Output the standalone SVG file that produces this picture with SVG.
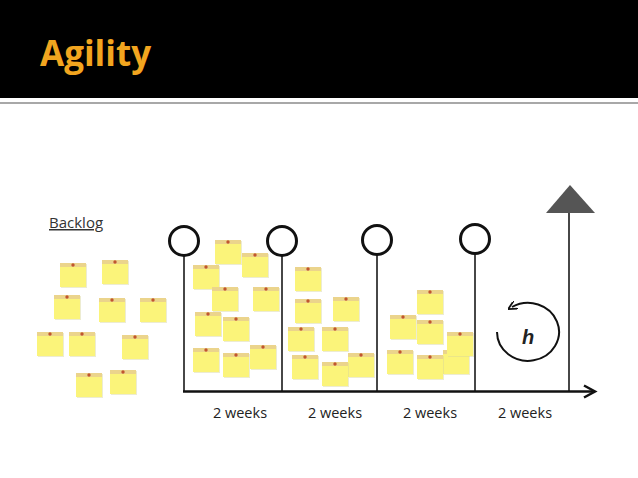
<svg xmlns="http://www.w3.org/2000/svg" xmlns:xlink="http://www.w3.org/1999/xlink" width="638" height="478" viewBox="0 0 638 478">
<style>
.title{font-family:"Open Sans","Liberation Sans",sans-serif;font-weight:bold;font-size:35px;fill:#F2A51F}
.lbl{font-family:"Open Sans","Liberation Sans",sans-serif;font-size:14.5px;fill:#222}
.ms{fill:#fff;stroke:#111;stroke-width:3}
.vl{stroke:#333;stroke-width:1.8;fill:none}
.ax{stroke:#111;stroke-width:2.5;fill:none}
</style>
<defs>
<symbol id="note" viewBox="0 0 26 24" width="26" height="24" overflow="visible">
<rect x="1" y="1" width="26" height="24" fill="#d8d49a" opacity="0.45"/>
<rect x="0" y="0" width="26" height="24" fill="#FBF47A"/>
<rect x="0" y="0" width="26" height="4" fill="#EBD48C"/>
<circle cx="13" cy="2" r="1.7" fill="#C0562E"/>
</symbol>
<marker id="loopHead" viewBox="0 0 10 10" refX="5" refY="5" markerWidth="9" markerHeight="9" orient="auto" markerUnits="userSpaceOnUse">
<path d="M0,0 L10,5 L0,10" fill="none" stroke="#111" stroke-width="2"/>
</marker>
</defs>
<rect width="638" height="478" fill="#fff"/>
<g id="header">
<rect x="0" y="0" width="638" height="98" fill="#000"/>
<rect x="0" y="102" width="638" height="2" fill="#A8A8A8"/>
<text class="title" x="40" y="66">Agility</text>
</g>
<g id="backlog">
<text class="lbl" x="49" y="228" style="font-size:15px;fill:#333" text-decoration="underline">Backlog</text>
<use href="#note" x="60" y="263"/>
<use href="#note" x="102" y="260"/>
<use href="#note" x="54" y="295"/>
<use href="#note" x="99" y="298"/>
<use href="#note" x="140" y="298"/>
<use href="#note" x="37" y="332"/>
<use href="#note" x="69" y="332"/>
<use href="#note" x="122" y="335"/>
<use href="#note" x="76" y="373"/>
<use href="#note" x="110" y="370"/>
</g>
<g id="connectors">
<line class="vl" x1="184" y1="256" x2="184" y2="391"/>
<line class="vl" x1="282" y1="256" x2="282" y2="391"/>
<line class="vl" x1="377" y1="255" x2="377" y2="391"/>
<line class="vl" x1="475" y1="254" x2="475" y2="391"/>
<line class="vl" x1="569" y1="212" x2="569" y2="391"/>
<path class="ax" d="M183,391.5 H594"/>
<path class="ax" d="M584,385.5 L595,391.5 L584,397.5"/>
</g>
<g id="milestone-1"><circle class="ms" cx="184" cy="241" r="14.5"/></g>
<g id="milestone-2"><circle class="ms" cx="282" cy="241" r="14.5"/></g>
<g id="milestone-3"><circle class="ms" cx="377" cy="240" r="14.5"/></g>
<g id="milestone-4"><circle class="ms" cx="475" cy="239" r="14.5"/></g>
<g id="release"><polygon points="570,185 546,213 595,213" fill="#555"/></g>
<g id="sprint-1">
<use href="#note" x="215" y="240"/>
<use href="#note" x="242" y="253"/>
<use href="#note" x="193" y="265"/>
<use href="#note" x="212" y="287"/>
<use href="#note" x="253" y="287"/>
<use href="#note" x="195" y="312"/>
<use href="#note" x="223" y="317"/>
<use href="#note" x="193" y="348"/>
<use href="#note" x="250" y="345"/>
<use href="#note" x="223" y="353"/>
<text class="lbl" x="240" y="418" text-anchor="middle">2 weeks</text>
</g>
<g id="sprint-2">
<use href="#note" x="295" y="267"/>
<use href="#note" x="295" y="299"/>
<use href="#note" x="333" y="297"/>
<use href="#note" x="288" y="327"/>
<use href="#note" x="322" y="327"/>
<use href="#note" x="292" y="355"/>
<use href="#note" x="348" y="353"/>
<use href="#note" x="322" y="362"/>
<text class="lbl" x="335" y="418" text-anchor="middle">2 weeks</text>
</g>
<g id="sprint-3">
<use href="#note" x="417" y="290"/>
<use href="#note" x="390" y="315"/>
<use href="#note" x="417" y="320"/>
<use href="#note" x="443" y="350"/>
<use href="#note" x="447" y="332"/>
<use href="#note" x="387" y="350"/>
<use href="#note" x="417" y="355"/>
<text class="lbl" x="430" y="418" text-anchor="middle">2 weeks</text>
</g>
<g id="sprint-4">
<path d="M497,332 A31,29 0 1,0 512,307" fill="none" stroke="#111" stroke-width="2" marker-end="url(#loopHead)"/>
<text x="528" y="344" text-anchor="middle" font-family="'Liberation Sans',sans-serif" font-weight="bold" font-style="italic" font-size="20" fill="#222">h</text>
<text class="lbl" x="525" y="418" text-anchor="middle">2 weeks</text>
</g>
</svg>
